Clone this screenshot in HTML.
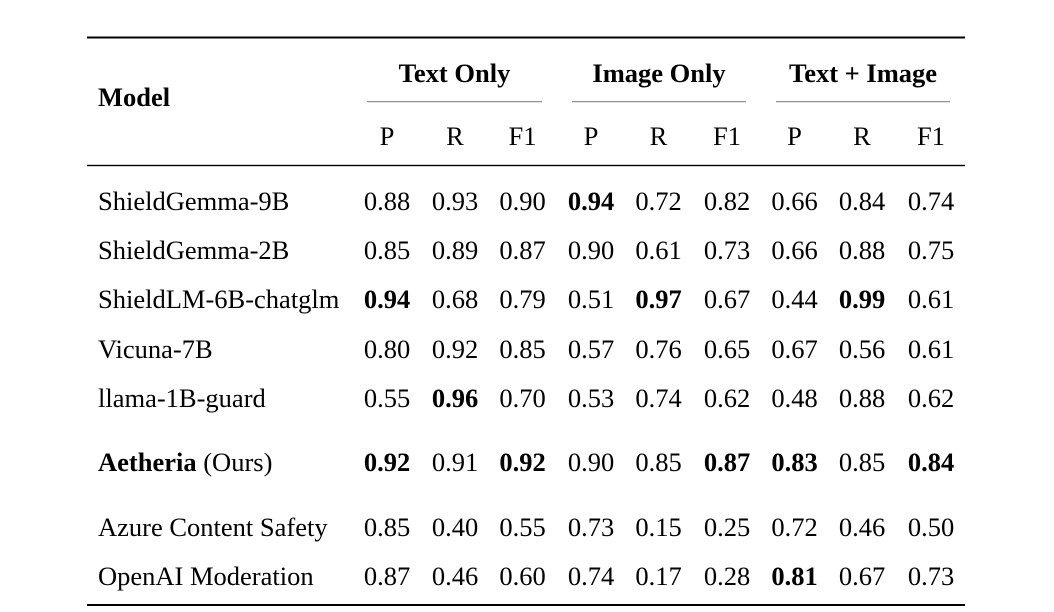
<!DOCTYPE html>
<html>
<head>
<meta charset="utf-8">
<style>
  html, body { margin: 0; padding: 0; background: #fff; }
  body { width: 1054px; height: 612px; overflow: hidden; }
  svg { display: block; }
  text { font-family: "Liberation Serif", "Times New Roman", serif; font-size: 26.5px; fill: #000; }
  .b { font-weight: bold; }
  .c { text-anchor: middle; }
</style>
</head>
<body>
<svg width="1054" height="612" viewBox="0 0 1054 612" xmlns="http://www.w3.org/2000/svg">
  <!-- rules -->
  <rect x="87" y="36.5" width="878" height="2" fill="#000"/>
  <rect x="87" y="164.8" width="878" height="1.4" fill="#000"/>
  <rect x="87" y="604" width="878" height="2" fill="#000"/>
  <!-- cmidrules -->
  <rect x="367" y="101.2" width="175" height="1" fill="#777"/>
  <rect x="572" y="101.2" width="174" height="1" fill="#777"/>
  <rect x="776" y="101.2" width="174" height="1" fill="#777"/>

  <!-- header -->
  <text class="b" x="98" y="106">Model</text>
  <text class="b c" x="454.5" y="82">Text Only</text>
  <text class="b c" x="659" y="82">Image Only</text>
  <text class="b c" x="863" y="82">Text + Image</text>

  <text class="c" x="387" y="145">P</text>
  <text class="c" x="455" y="145">R</text>
  <text class="c" x="522.5" y="145">F1</text>
  <text class="c" x="591" y="145">P</text>
  <text class="c" x="658.5" y="145">R</text>
  <text class="c" x="727" y="145">F1</text>
  <text class="c" x="794.5" y="145">P</text>
  <text class="c" x="862" y="145">R</text>
  <text class="c" x="931" y="145">F1</text>

  <!-- row 1 -->
  <text x="98" y="210">ShieldGemma-9B</text>
  <text class="c" x="387" y="210">0.88</text>
  <text class="c" x="455" y="210">0.93</text>
  <text class="c" x="522.5" y="210">0.90</text>
  <text class="c b" x="591" y="210">0.94</text>
  <text class="c" x="658.5" y="210">0.72</text>
  <text class="c" x="727" y="210">0.82</text>
  <text class="c" x="794.5" y="210">0.66</text>
  <text class="c" x="862" y="210">0.84</text>
  <text class="c" x="931" y="210">0.74</text>

  <!-- row 2 -->
  <text x="98" y="259">ShieldGemma-2B</text>
  <text class="c" x="387" y="259">0.85</text>
  <text class="c" x="455" y="259">0.89</text>
  <text class="c" x="522.5" y="259">0.87</text>
  <text class="c" x="591" y="259">0.90</text>
  <text class="c" x="658.5" y="259">0.61</text>
  <text class="c" x="727" y="259">0.73</text>
  <text class="c" x="794.5" y="259">0.66</text>
  <text class="c" x="862" y="259">0.88</text>
  <text class="c" x="931" y="259">0.75</text>

  <!-- row 3 -->
  <text x="98" y="308">ShieldLM-6B-chatglm</text>
  <text class="c b" x="387" y="308">0.94</text>
  <text class="c" x="455" y="308">0.68</text>
  <text class="c" x="522.5" y="308">0.79</text>
  <text class="c" x="591" y="308">0.51</text>
  <text class="c b" x="658.5" y="308">0.97</text>
  <text class="c" x="727" y="308">0.67</text>
  <text class="c" x="794.5" y="308">0.44</text>
  <text class="c b" x="862" y="308">0.99</text>
  <text class="c" x="931" y="308">0.61</text>

  <!-- row 4 -->
  <text x="98" y="358">Vicuna-7B</text>
  <text class="c" x="387" y="358">0.80</text>
  <text class="c" x="455" y="358">0.92</text>
  <text class="c" x="522.5" y="358">0.85</text>
  <text class="c" x="591" y="358">0.57</text>
  <text class="c" x="658.5" y="358">0.76</text>
  <text class="c" x="727" y="358">0.65</text>
  <text class="c" x="794.5" y="358">0.67</text>
  <text class="c" x="862" y="358">0.56</text>
  <text class="c" x="931" y="358">0.61</text>

  <!-- row 5 -->
  <text x="98" y="407">llama-1B-guard</text>
  <text class="c" x="387" y="407">0.55</text>
  <text class="c b" x="455" y="407">0.96</text>
  <text class="c" x="522.5" y="407">0.70</text>
  <text class="c" x="591" y="407">0.53</text>
  <text class="c" x="658.5" y="407">0.74</text>
  <text class="c" x="727" y="407">0.62</text>
  <text class="c" x="794.5" y="407">0.48</text>
  <text class="c" x="862" y="407">0.88</text>
  <text class="c" x="931" y="407">0.62</text>

  <!-- row 6 -->
  <text x="98" y="471"><tspan class="b">Aetheria</tspan> (Ours)</text>
  <text class="c b" x="387" y="471">0.92</text>
  <text class="c" x="455" y="471">0.91</text>
  <text class="c b" x="522.5" y="471">0.92</text>
  <text class="c" x="591" y="471">0.90</text>
  <text class="c" x="658.5" y="471">0.85</text>
  <text class="c b" x="727" y="471">0.87</text>
  <text class="c b" x="794.5" y="471">0.83</text>
  <text class="c" x="862" y="471">0.85</text>
  <text class="c b" x="931" y="471">0.84</text>

  <!-- row 7 -->
  <text x="98" y="536">Azure Content Safety</text>
  <text class="c" x="387" y="536">0.85</text>
  <text class="c" x="455" y="536">0.40</text>
  <text class="c" x="522.5" y="536">0.55</text>
  <text class="c" x="591" y="536">0.73</text>
  <text class="c" x="658.5" y="536">0.15</text>
  <text class="c" x="727" y="536">0.25</text>
  <text class="c" x="794.5" y="536">0.72</text>
  <text class="c" x="862" y="536">0.46</text>
  <text class="c" x="931" y="536">0.50</text>

  <!-- row 8 -->
  <text x="98" y="585">OpenAI Moderation</text>
  <text class="c" x="387" y="585">0.87</text>
  <text class="c" x="455" y="585">0.46</text>
  <text class="c" x="522.5" y="585">0.60</text>
  <text class="c" x="591" y="585">0.74</text>
  <text class="c" x="658.5" y="585">0.17</text>
  <text class="c" x="727" y="585">0.28</text>
  <text class="c b" x="794.5" y="585">0.81</text>
  <text class="c" x="862" y="585">0.67</text>
  <text class="c" x="931" y="585">0.73</text>
</svg>
</body>
</html>
